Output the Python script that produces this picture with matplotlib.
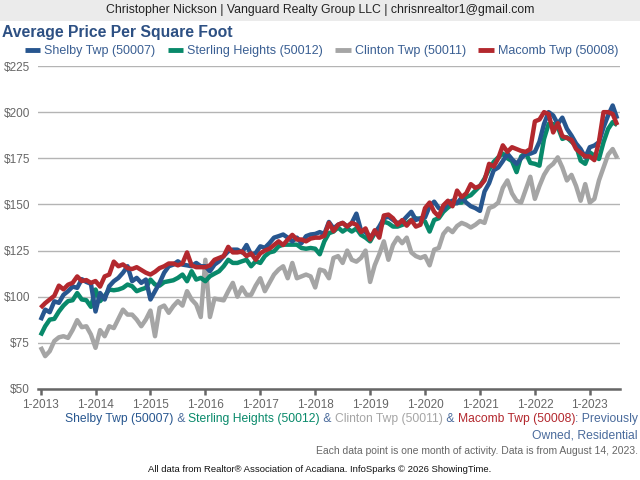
import numpy as np
import matplotlib
matplotlib.use('Agg')
import matplotlib.pyplot as plt
from matplotlib.patches import Rectangle

plt.rcParams['font.family'] = ['Liberation Sans', 'DejaVu Sans']

# monthly average price per sq ft, Jan 2013 .. Jul 2023
shelby = [87.3, 93, 91.6, 97.5, 96.7, 101, 103, 105.5, 104.8, 109.5, 108, 107,
          92, 102, 98.5, 105.7, 108.4, 110.2, 113, 116.5, 108.4, 110.2, 107.5, 109.3,
          98.5, 103, 107.5, 113, 116.5, 117.4, 119.2, 117.4, 117, 116.5, 118.3, 116.5,
          116.5, 113.8, 117.4, 119.2, 122, 124.6, 125.5, 125.5, 124, 128, 122.8, 123.7,
          127.3, 126.5, 129, 132, 132.8, 133.7, 132, 130, 132, 129, 132.8, 133.7,
          134, 135, 134, 140.5, 137, 139, 140, 138, 140, 145, 136, 135,
          132.6, 134.4, 138, 142.5, 143.4, 141.6, 139.8, 140.7, 143.4, 146, 141.6, 142.5,
          143, 149, 151.5, 148, 147, 151, 152, 150.6, 153.7, 151, 149, 148,
          146.5, 157, 161.5, 168.5, 170, 173.5, 177.5, 174.5, 172, 175, 177.5, 177.5,
          178.5, 184, 193.6, 200, 198.2, 193.6, 197, 191, 187.3, 183, 180, 175.5,
          181, 181.9, 183.7, 191.8, 198.2, 203.6, 196.4]
sterling = [79, 84, 87.6, 88, 92, 95.2, 97.6, 98.1, 102, 98.5, 98.1, 94.5,
            103.9, 97.6, 100.3, 103.9, 103.5, 103.9, 104.8, 106.6, 105.7, 103, 104, 104.8,
            109.3, 106.6, 106, 107.9, 108.4, 108.9, 110.2, 112, 108.4, 113.8, 109.3, 110.2,
            108.4, 111.1, 112.5, 113.8, 116.5, 120, 118.3, 118.3, 119.2, 120, 116.5, 119.2,
            118.3, 122, 124, 124.6, 127.3, 128.2, 128.2, 128.2, 128.2, 126.4, 126, 126.4,
            126, 123, 130, 134.4, 135.3, 137.5, 135.3, 137, 135.3, 137, 133.5, 132,
            130, 134.4, 137, 140.7, 139.8, 138, 138, 138.9, 139.8, 141.6, 142.5, 142,
            140.7, 135.3, 141.6, 142.5, 146, 148.3, 150, 151, 151, 154, 155, 157.5,
            160, 164, 169, 173, 175.5, 177.5, 175, 173.5, 167.5, 176, 178, 172.5,
            172, 171, 185.5, 193.6, 193.6, 192, 185.5, 186.4, 184, 181.9, 173.7, 172,
            178.2, 176.4, 174.6, 183.7, 190.9, 194.6, 193]
clinton = [72.8, 67.8, 70.5, 76, 78, 78.6, 77.7, 82, 87.3, 83.5, 84, 79.5,
           72.3, 81.9, 78.6, 84, 83, 88, 93, 90.3, 90.3, 87.6, 84, 87.6,
           92.5, 78.6, 94, 95.2, 91.3, 94.9, 97.6, 95.2, 103, 98.5, 95.8, 89,
           120, 89, 99, 98.5, 98, 103, 107.5, 100, 105, 101, 101, 106,
           110, 103, 107.5, 112, 114.7, 116.5, 110, 118.3, 110, 111, 112, 111,
           105, 114.7, 114, 110, 121, 122, 118.3, 125, 120, 119, 121, 125,
           108, 117, 123, 130, 120, 128, 132, 129, 132, 124, 122, 121,
           122, 117, 125.5, 126.4, 134, 137, 135, 138.3, 140, 139, 137.5, 139,
           141, 140, 148, 149, 151, 159, 163, 156, 152, 151, 158, 165,
           153, 160, 166, 170, 172, 175.5, 170, 163, 166, 160, 152, 161,
           151, 153, 163, 170, 177, 180, 175]
macomb = [94, 96.5, 98.5, 100.5, 106, 104, 106.5, 107.5, 111, 108.5, 109, 107.5,
          108.5, 105.5, 111, 112, 119, 116.5, 117.5, 115.5, 115, 116, 114.5, 113,
          112, 113.5, 115.5, 116.5, 118, 118, 117, 118, 124, 117, 116, 116,
          116, 117, 120, 121, 122, 127, 124, 124, 124.5, 122, 123.5, 120,
          123.5, 125, 126, 128, 130, 128, 131, 133.5, 131, 131, 130, 131.5,
          132, 132, 133, 140, 135.5, 139, 140, 138, 140, 139, 135, 137,
          131, 136, 132, 144, 144.5, 142.5, 139, 141.5, 138.5, 141.5, 138, 139,
          148, 151, 146, 143.5, 149.5, 152, 149, 157.5, 154, 156, 161, 159,
          160, 163, 172, 170.5, 175, 182, 178.5, 181, 180, 179, 178.5, 180,
          195, 196, 200, 199, 189, 194, 187, 186, 185, 180, 178, 176,
          176, 174, 184, 200, 200, 199, 193]

labels = ['Shelby Twp (50007)', 'Sterling Heights (50012)', 'Clinton Twp (50011)', 'Macomb Twp (50008)']
colors = ['#27568f', '#08896a', '#a5a5a5', '#b3282e']
year_labels = ['1-%d' % y for y in range(2013, 2024)]
y_ticks = [50, 75, 100, 125, 150, 175, 200, 225]

months = np.arange(len(shelby))

fig = plt.figure(figsize=(6.4, 4.8), dpi=100)
fig.patches.append(Rectangle((0, 1 - 21 / 480), 1, 21 / 480, transform=fig.transFigure,
                             facecolor='#ebebeb', edgecolor='none'))
fig.text(0.5, 1 - 10.5 / 480, 'Christopher Nickson | Vanguard Realty Group LLC | chrisnrealtor1@gmail.com',
         ha='center', va='center', fontsize=8.8, color='#222222')
fig.text(2 / 640, 1 - 32 / 480, 'Average Price Per Square Foot', ha='left', va='center',
         fontsize=11.3, fontweight='bold', color='#2d5083')

ax = fig.add_axes([38.3 / 640, 1 - 389 / 480, (620 - 38.3) / 640, (389 - 66) / 480])

series = [shelby, sterling, clinton, macomb]
order = [2, 1, 0, 3]
handles = [None] * 4
for i in order:
    handles[i], = ax.plot(months, series[i], color=colors[i], lw=3.2,
                          solid_joinstyle='round', solid_capstyle='butt', zorder=3 + order.index(i))

ax.set_xlim(-0.5, 126.6)
ax.set_ylim(50, 225)
ax.set_yticks(y_ticks)
ax.set_yticklabels(['$%d' % v for v in y_ticks])
ax.set_xticks(np.arange(0, 121, 12))
ax.set_xticklabels(year_labels)
ax.grid(axis='y', color='#b4b4b4', lw=1)
ax.set_axisbelow(True)
for s in ['left', 'right', 'top']:
    ax.spines[s].set_visible(False)
ax.spines['bottom'].set_color('#666666')
ax.spines['bottom'].set_linewidth(1.8)
ax.tick_params(axis='y', length=0, pad=6, labelsize=8.5, labelcolor='#666666')
ax.tick_params(axis='x', length=4, width=1.8, color='#666666', pad=3, labelsize=8.5, labelcolor='#666666')

leg = fig.legend(handles, labels, loc='center', bbox_to_anchor=(0.502, 1 - 51 / 480), ncol=4,
                 frameon=False, fontsize=9, handlelength=1.25, handletextpad=0.3,
                 columnspacing=1.0, borderaxespad=0)
for t in leg.get_texts():
    t.set_color('#3a5f93')
for h in leg.legend_handles:
    h.set_linewidth(3.5)

# multi-coloured footnote
note = '#4a6b9c'
parts = [(labels[0], colors[0]), (' & ', note), (labels[1], colors[1]), (' & ', note),
         (labels[2], colors[2]), (' & ', note), (labels[3], colors[3]), (': Previously', note)]
fig.canvas.draw()
r = fig.canvas.get_renderer()
texts = [fig.text(0, 1 - 419 / 480, s, color=c, fontsize=8.7, ha='left', va='center') for s, c in parts]
widths = [t.get_window_extent(r).width for t in texts]
x = 638 - sum(widths)
for t, w in zip(texts, widths):
    t.set_x(x / 640)
    x += w
fig.text(638 / 640, 1 - 435 / 480, 'Owned, Residential', color=note, fontsize=8.7, ha='right', va='center')
fig.text(638 / 640, 1 - 451 / 480, 'Each data point is one month of activity. Data is from August 14, 2023.',
         color='#666666', fontsize=7.5, ha='right', va='center')
fig.text(0.5, 1 - 470 / 480, 'All data from Realtor\u00ae Association of Acadiana. InfoSparks \u00a9 2026 ShowingTime.',
         color='#111111', fontsize=6.8, ha='center', va='center')

fig.savefig('out.png', dpi=100)
